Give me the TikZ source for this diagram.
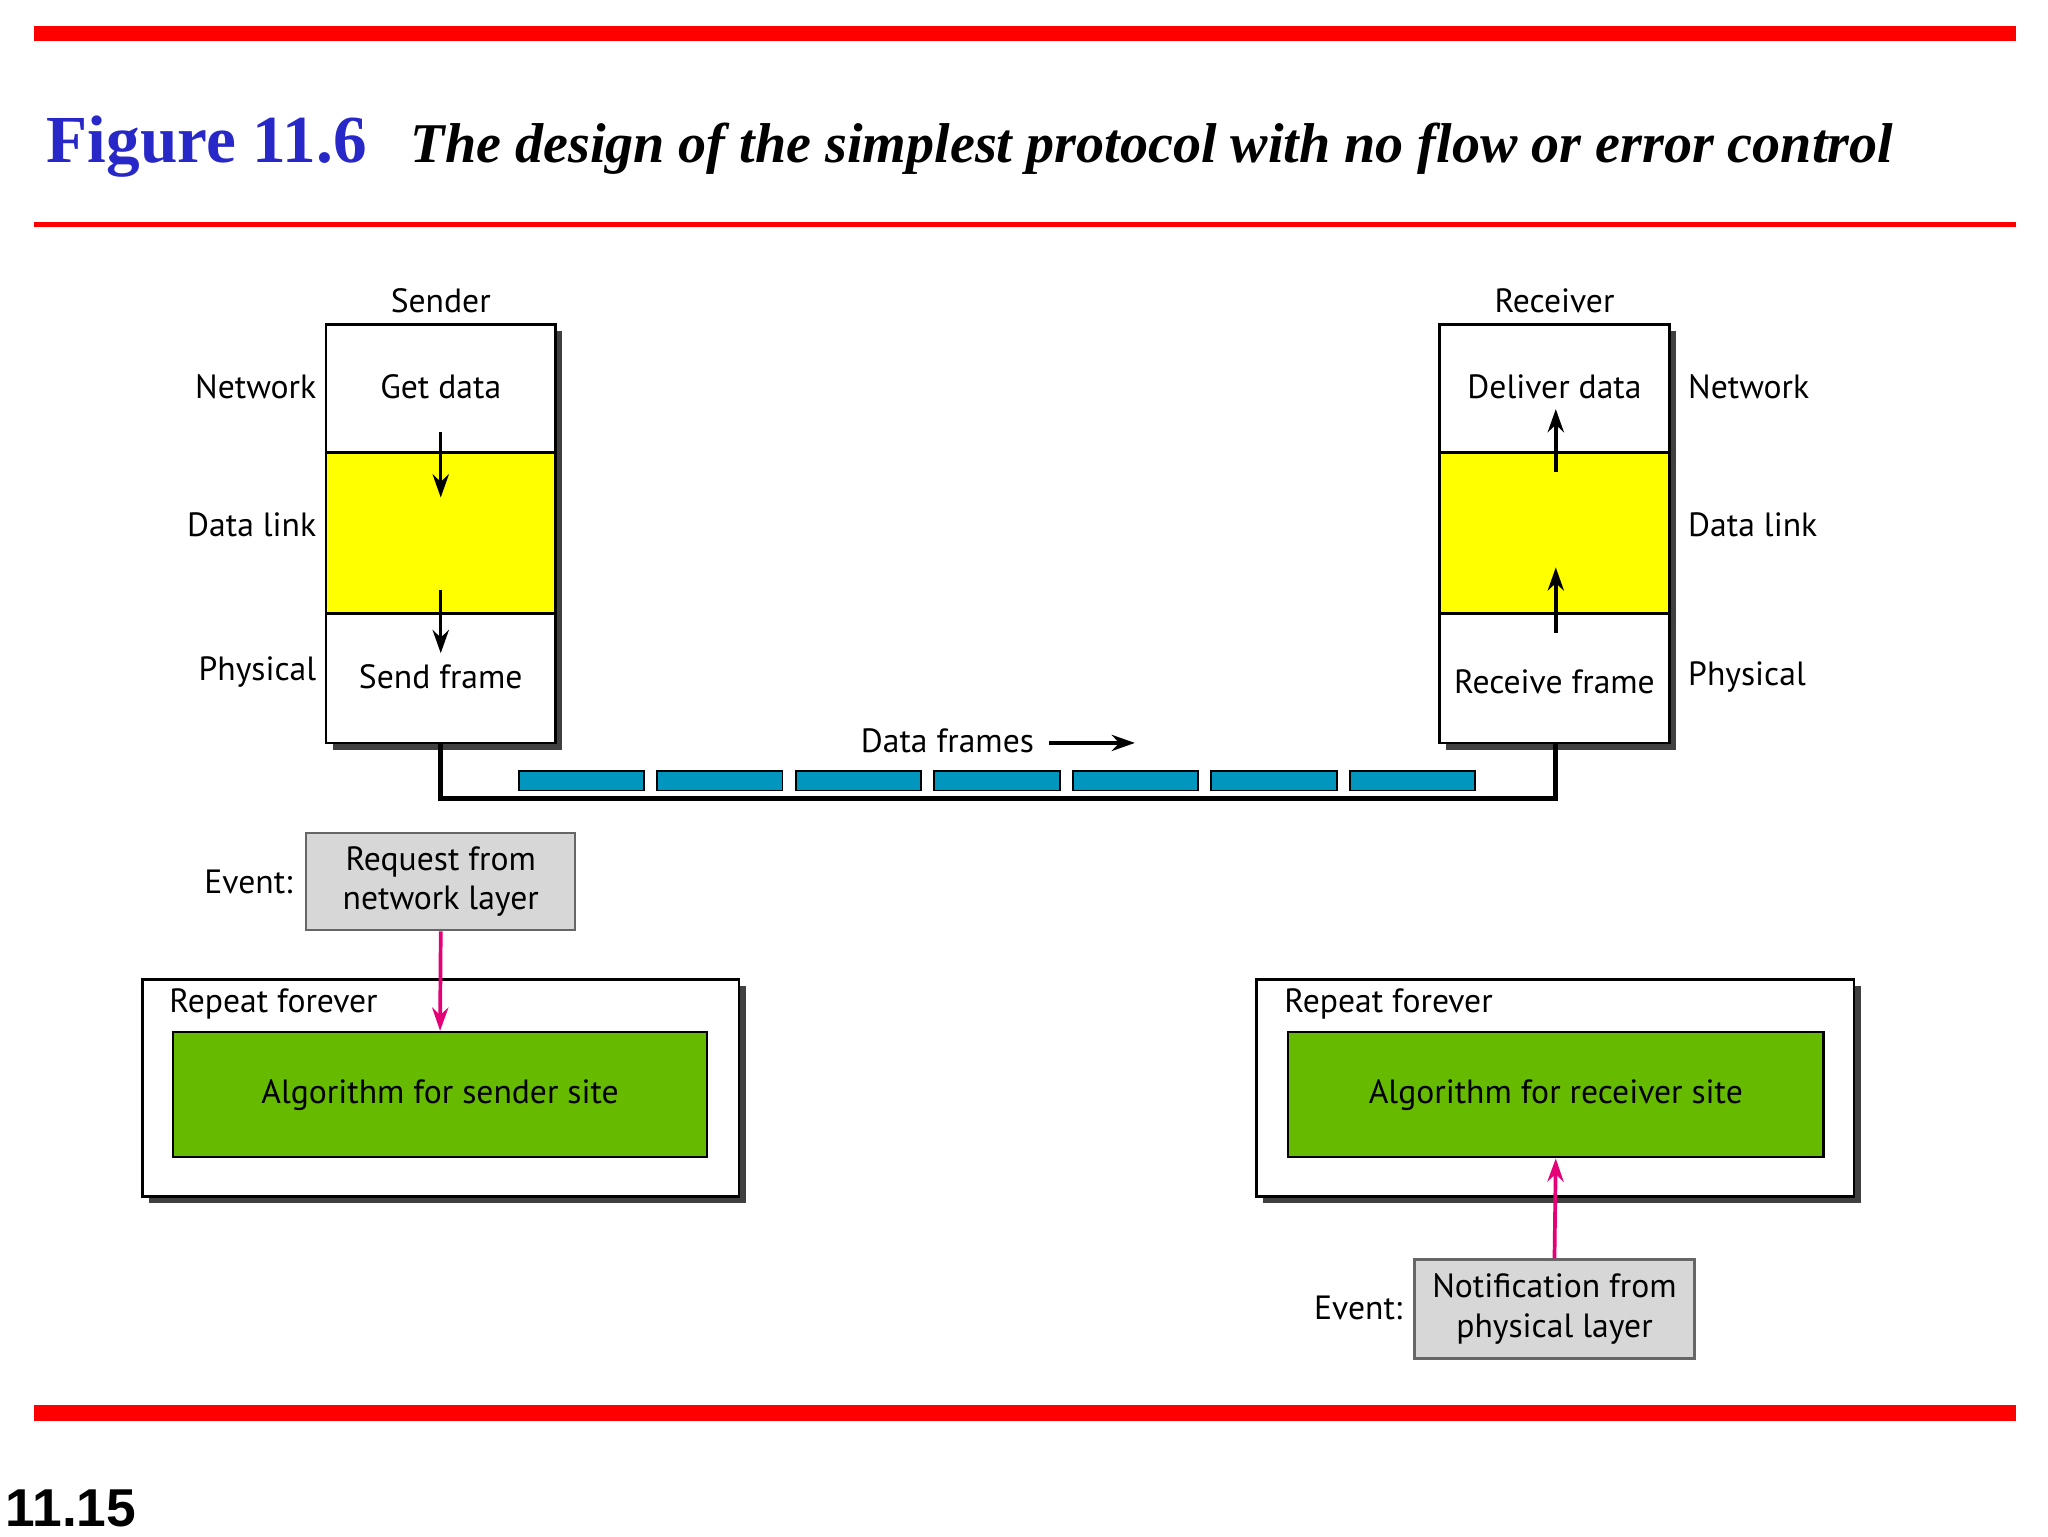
\documentclass[tikz,border=0pt]{standalone}
\usepackage{fontspec}
\setmainfont{PT Sans}
\newfontfamily\serifb{Liberation Serif}
\newfontfamily\hv{Liberation Sans}
\usetikzlibrary{arrows.meta}
\definecolor{ttlblue}{RGB}{40,40,200}
\definecolor{ylw}{RGB}{255,255,0}
\definecolor{grn}{RGB}{102,187,0}
\definecolor{frm}{RGB}{0,150,190}
\definecolor{evg}{RGB}{215,215,215}
\definecolor{pnk}{RGB}{230,0,120}
\tikzset{x=0.02cm,y=-0.02cm,
 lbl/.style={font=\fontsize{14.5}{17}\selectfont,inner sep=0pt},
 shadowbox/.style={draw=black,line width=1.2pt,fill=white},
 blk/.style={-{Stealth[length=10pt,width=7pt]},line width=1.5pt},
 pk/.style={-{Stealth[length=10pt,width=7pt]},line width=1.6pt,pnk}}
\begin{document}
\begin{tikzpicture}
\useasboundingbox (0,0) rectangle (1552,1164);
\fill[red] (26,20) rectangle (1528,31);
\fill[red] (26,168) rectangle (1528,172);
\fill[red] (26,1065) rectangle (1528,1077);
\node[anchor=base west,inner sep=0pt,text=ttlblue,font=\serifb\bfseries\fontsize{29}{32}\selectfont] (fig) at (35,123) {Figure 11.6};
\node[anchor=base west,inner sep=0pt,font=\serifb\bfseries\itshape\fontsize{24.2}{27}\selectfont] (ttl) at (311,123) {The design of the simplest protocol with no flow or error control};
\node[anchor=base west,inner sep=0pt,font=\hv\bfseries\fontsize{23}{26}\selectfont] (pg) at (4,1157) {11.15};
% sender stack
\fill[black!75] (252,251) rectangle (426,568);
\draw[shadowbox] (247,246) rectangle (421,563);
\fill[ylw] (247,343) rectangle (421,465);
\draw[line width=1.2pt] (247,343) -- (421,343) (247,465) -- (421,465) (247,246) rectangle (421,563);
\fill[black!75] (1096,251) rectangle (1270,568);
\draw[shadowbox] (1091,246) rectangle (1265,563);
\fill[ylw] (1091,343) rectangle (1265,465);
\draw[line width=1.2pt] (1091,343) -- (1265,343) (1091,465) -- (1265,465) (1091,246) rectangle (1265,563);
\node[lbl] (snd) at (334,228) {Sender};
\node[lbl] (rcv) at (1178,228) {Receiver};
\node[lbl,anchor=east] (n1) at (240,293) {Network};
\node[lbl,anchor=east] (d1) at (240,398) {Data link};
\node[lbl,anchor=east] (p1) at (240,509) {Physical};
\node[lbl,anchor=west] (n2) at (1279,293) {Network};
\node[lbl,anchor=west] (d2) at (1279,398) {Data link};
\node[lbl,anchor=west] (p2) at (1279,513) {Physical};
\node[lbl] (gd) at (334,293) {Get data};
\node[lbl] (sf) at (334,513) {Send frame};
\node[lbl] (dd) at (1178,293) {Deliver data};
\node[lbl] (rf) at (1178,517) {Receive frame};
\coordinate (a1) at (334,327); \coordinate (a2) at (334,377);
\coordinate (a3) at (334,447); \coordinate (a4) at (334,495);
\coordinate (b1) at (1179,358); \coordinate (b2) at (1179,310);
\coordinate (b3) at (1179,480); \coordinate (b4) at (1179,430);
\draw[blk] (a1) -- (a2); \draw[blk] (a3) -- (a4);
\draw[blk] (b1) -- (b2); \draw[blk] (b3) -- (b4);
% link
\draw[line width=2.2pt] (334,563) |- (1179,605) -- (1179,563);
\foreach \i in {0,...,6}{
 \draw[fill=frm,line width=0.8pt] (393+105*\i,584) rectangle ++(95,15);}
\node[lbl] (df) at (718,561) {Data frames};
\coordinate (f1) at (795,563); \coordinate (f2) at (860,563);
\draw[blk] (f1) -- (f2);
% sender event
\node[lbl,anchor=east] (ev1) at (222,668) {Event:};
\node[draw=black!60,fill=evg,line width=1pt,inner sep=0pt,lbl,align=center,
 minimum width=4.08cm,minimum height=1.48cm] (req) at (334,668) {Request from\\network layer};
\fill[black!75] (113,747) rectangle (565,912);
\draw[shadowbox] (108,742) rectangle (560,907);
\node[lbl,anchor=west] (rp1) at (128,761) {Repeat forever};
\node[draw,fill=grn,line width=1pt,minimum width=8.1cm,minimum height=1.9cm,lbl] (alg1) at (333.5,829.5) {Algorithm for sender site};
\draw[pk] (req.south) -- (alg1.north);
% receiver
\fill[black!75] (957,747) rectangle (1410,912);
\draw[shadowbox] (952,742) rectangle (1405,907);
\node[lbl,anchor=west] (rp2) at (973,761) {Repeat forever};
\node[draw,fill=grn,line width=1pt,minimum width=8.12cm,minimum height=1.9cm,lbl] (alg2) at (1179,829.5) {Algorithm for receiver site};
\node[lbl,anchor=east] (ev2) at (1063,991) {Event:};
\node[draw=black!60,fill=evg,line width=1pt,inner sep=0pt,lbl,align=center,
 minimum width=4.24cm,minimum height=1.5cm] (ntf) at (1178,992) {Notification from\\physical layer};
\draw[pk] (ntf.north) -- (alg2.south);
\end{tikzpicture}
\end{document}
